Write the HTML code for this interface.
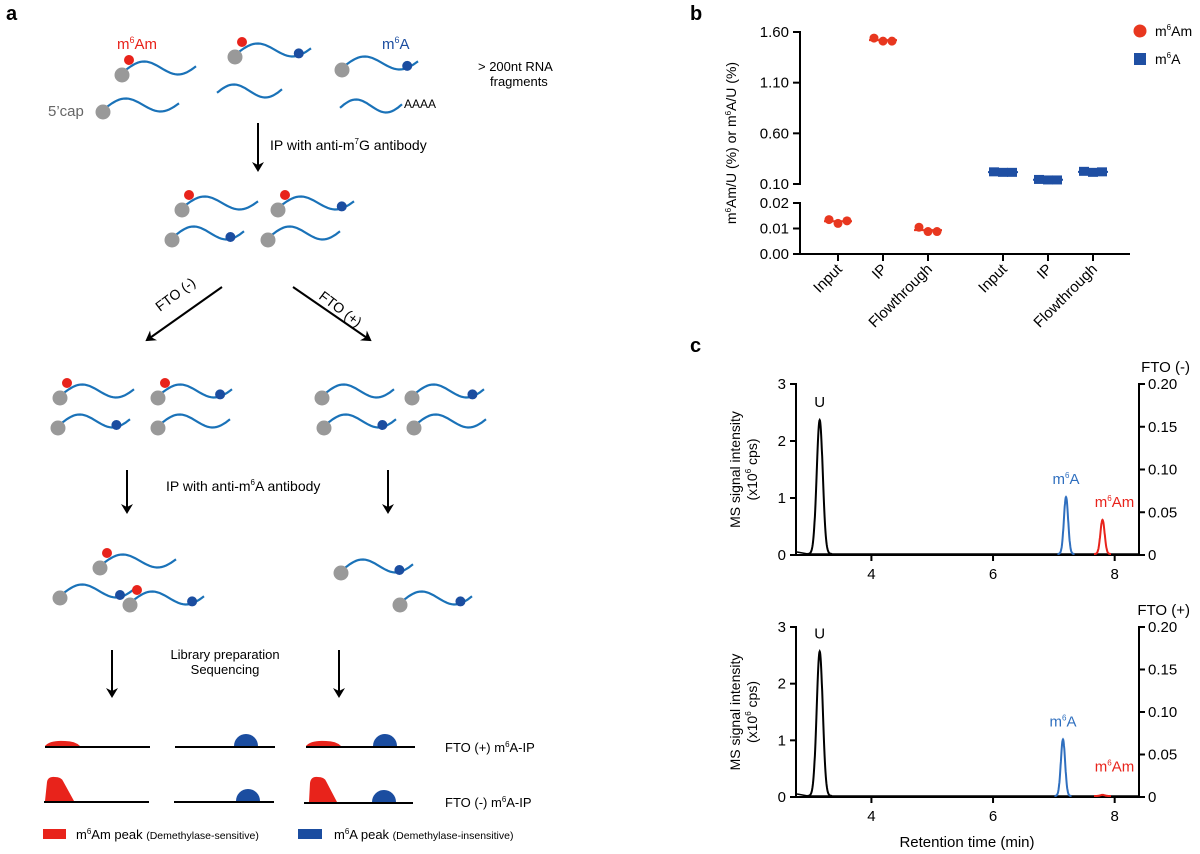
<!DOCTYPE html>
<html><head><meta charset="utf-8"><style>
html,body{margin:0;padding:0;background:#fff}
svg{display:block;font-family:"Liberation Sans",Arial,sans-serif}
</style></head><body>
<svg id="fig" width="1200" height="854" viewBox="0 0 1200 854" xmlns="http://www.w3.org/2000/svg">
<defs>
<marker id="ah" markerWidth="10" markerHeight="12" refX="8" refY="6" orient="auto" markerUnits="userSpaceOnUse"><path d="M0,0 L10,6 L0,12 L3,6 Z" fill="#000"/></marker>
</defs>
<g id="panelA">
<text x="6" y="20" font-size="20" font-weight="bold">a</text>
<text x="117" y="49" font-size="15" fill="#e8231b">m<tspan font-size="9" dy="-6">6</tspan><tspan dy="6">Am</tspan></text>
<text x="382" y="49" font-size="15" fill="#1b4da0">m<tspan font-size="9" dy="-6">6</tspan><tspan dy="6">A</tspan></text>
<text x="478" y="71" font-size="13">&gt; 200nt RNA</text>
<text x="490" y="86" font-size="13">fragments</text>
<text x="48" y="116" font-size="15" fill="#666">5’cap</text>
<text x="404" y="108" font-size="12">AAAA</text>
<line x1="258" y1="123" x2="258" y2="170" stroke="#000" stroke-width="2" marker-end="url(#ah)"/>
<text x="270" y="150" font-size="14">IP with anti-m<tspan font-size="8" dy="-6">7</tspan><tspan dy="6">G antibody</tspan></text>
<line x1="222" y1="287" x2="147" y2="340" stroke="#000" stroke-width="2" marker-end="url(#ah)"/>
<line x1="293" y1="287" x2="370" y2="340" stroke="#000" stroke-width="2" marker-end="url(#ah)"/>
<text x="0" y="0" font-size="14" transform="translate(160,312) rotate(-37)">FTO (-)</text>
<text x="0" y="0" font-size="14" transform="translate(318,298) rotate(37)">FTO (+)</text>
<line x1="127" y1="470" x2="127" y2="512" stroke="#000" stroke-width="2" marker-end="url(#ah)"/>
<line x1="388" y1="470" x2="388" y2="512" stroke="#000" stroke-width="2" marker-end="url(#ah)"/>
<text x="166" y="491" font-size="14">IP with anti-m<tspan font-size="8" dy="-6">6</tspan><tspan dy="6">A antibody</tspan></text>
<line x1="112" y1="650" x2="112" y2="696" stroke="#000" stroke-width="2" marker-end="url(#ah)"/>
<line x1="339" y1="650" x2="339" y2="696" stroke="#000" stroke-width="2" marker-end="url(#ah)"/>
<text x="225" y="659" font-size="13" text-anchor="middle">Library preparation</text>
<text x="225" y="674" font-size="13" text-anchor="middle">Sequencing</text>
<g id="mols"></g>
<g>
<line x1="45" y1="747" x2="150" y2="747" stroke="#000" stroke-width="2"/>
<path d="M45,746 Q50,740 65,741 Q75,741 80,746 Z" fill="#e8231b"/>
<line x1="175" y1="747" x2="275" y2="747" stroke="#000" stroke-width="2"/>
<path d="M234,746 A12,12 0 0 1 258,746 Z" fill="#1b4da0"/>
<line x1="306" y1="747" x2="415" y2="747" stroke="#000" stroke-width="2"/>
<path d="M306,746 Q311,740 326,741 Q336,741 341,746 Z" fill="#e8231b"/>
<path d="M373,746 A12,12 0 0 1 397,746 Z" fill="#1b4da0"/>
<line x1="44" y1="802" x2="149" y2="802" stroke="#000" stroke-width="2"/>
<path d="M45,801 L47,782 Q48,776 55,777 Q61,777 63,781 L74,801 Z" fill="#e8231b"/>
<line x1="174" y1="802" x2="274" y2="802" stroke="#000" stroke-width="2"/>
<path d="M236,801 A12,12 0 0 1 260,801 Z" fill="#1b4da0"/>
<line x1="304" y1="803" x2="413" y2="803" stroke="#000" stroke-width="2"/>
<path d="M309,802 L310,783 Q311,776 318,777 Q324,777 326,781 L337,802 Z" fill="#e8231b"/>
<path d="M372,802 A12,12 0 0 1 396,802 Z" fill="#1b4da0"/>
</g>
<text x="445" y="752" font-size="13">FTO (+) m<tspan font-size="8" dy="-5">6</tspan><tspan dy="5">A-IP</tspan></text>
<text x="445" y="807" font-size="13">FTO (-) m<tspan font-size="8" dy="-5">6</tspan><tspan dy="5">A-IP</tspan></text>
<rect x="43" y="829" width="23" height="10" fill="#e8231b"/>
<text x="76" y="839" font-size="13">m<tspan font-size="8" dy="-5">6</tspan><tspan dy="5">Am peak </tspan><tspan font-size="10.5">(Demethylase-sensitive)</tspan></text>
<rect x="298" y="829" width="24" height="10" fill="#1b4da0"/>
<text x="334" y="839" font-size="13">m<tspan font-size="8" dy="-5">6</tspan><tspan dy="5">A peak </tspan><tspan font-size="10.5">(Demethylase-insensitive)</tspan></text>
</g>

<g id="panelB">
<text x="690" y="20" font-size="20" font-weight="bold">b</text>
<text transform="translate(736,143) rotate(-90)" font-size="14" text-anchor="middle">m<tspan font-size="8" dy="-5">6</tspan><tspan dy="5">Am/U (%) or m</tspan><tspan font-size="8" dy="-5">6</tspan><tspan dy="5">A/U (%)</tspan></text>
<circle cx="1140" cy="31" r="6.5" fill="#e8371f"/>
<text x="1155" y="36" font-size="14">m<tspan font-size="8" dy="-6">6</tspan><tspan dy="6">Am</tspan></text>
<rect x="1134" y="53" width="12" height="12" fill="#1f4fa3"/>
<text x="1155" y="64" font-size="14">m<tspan font-size="8" dy="-6">6</tspan><tspan dy="6">A</tspan></text>
<g id="bAxes"></g><g id="bMarks"></g>
</g>

<g id="panelC">
<text x="690" y="352" font-size="20" font-weight="bold">c</text>
<g id="cPlots"></g>
<text x="967" y="847" font-size="15" text-anchor="middle">Retention time (min)</text>
</g>
</svg>
<script>
const NS="http://www.w3.org/2000/svg";
function mk(tag,attrs,parent){const e=document.createElementNS(NS,tag);for(const k in attrs)e.setAttribute(k,attrs[k]);parent.appendChild(e);return e;}

// ---------- Panel a molecules ----------
const molecules=[
[122,75,70,1,-1,1],[235,57,72,1,0.83,1],[342,70,72,0,0.85,1],[217,92,65,0,-1,0],[103,112,72,0,-1,1],[340,107,62,0,-1,0],
[182,210,72,1,-1,1],[278,210,72,1,0.83,1],[172,240,68,0,0.8,1],[268,240,68,0,-1,1],
[60,398,70,1,-1,1],[158,398,70,1,0.83,1],[58,428,68,0,0.8,1],[158,428,68,0,-1,1],
[322,398,68,0,-1,1],[412,398,68,0,0.83,1],[324,428,68,0,0.8,1],[414,428,68,0,-1,1],
[100,568,72,1,-1,1],[60,598,70,0,0.8,1],[130,605,70,1,0.83,1],
[341,573,68,0,0.8,1],[400,605,68,0,0.83,1]
];
const molG=document.getElementById('mols');
molecules.forEach((m,i)=>{
  const [cx,cy,L,red,blue,cap]=m;
  const g=mk('g',{},molG);
  
  
  const x0=cap?cx+4:cx, y0=cap?cy-6:cy;
  let d='';
  for(let k=0;k<=30;k++){const t=k/30;const x=x0+L*t;const y=y0-8*Math.sin(2*Math.PI*t*0.95+0.15)-6*t+2;d+=(k?'L':'M')+x.toFixed(1)+','+y.toFixed(1);}
  mk('path',{d:d,fill:'none',stroke:'#1a72b8','stroke-width':2.2},g);
  if(cap) mk('circle',{cx:cx,cy:cy,r:7.5,fill:'#999'},g);
  if(red) mk('circle',{cx:cx+7,cy:cy-15,r:5,fill:'#e8231b'},g);
  if(blue>=0){const t=blue;const x=x0+L*t;const y=y0-8*Math.sin(2*Math.PI*t*0.95+0.15)-6*t+2;mk('circle',{cx:x,cy:y-2,r:5,fill:'#1b4da0'},g);}
});

// ---------- Panel b ----------
const bCategories=["Input","IP","Flowthrough","Input","IP","Flowthrough"];
const bM6Am=[[0.0135,0.012,0.013],[1.54,1.51,1.51],[0.0105,0.0088,0.0088]];
const bM6A=[[0.22,0.215,0.215],[0.145,0.14,0.14],[0.225,0.215,0.22]];
const bUpperTicks=[0.10,0.60,1.10,1.60];
const bLowerTicks=[0.00,0.01,0.02];
const bAxisX=800, bCatX0=838, bCatStep=45, bGap=75;
function bY(v){ if(v<=0.02) return 254 - v/0.02*51; return 184 - (v-0.10)/1.50*152; }
function bX(i){ return bCatX0 + i*bCatStep + (i>=3?bGap-bCatStep:0); }
const bA=document.getElementById('bAxes');
let e;
e=mk('line',{x1:bAxisX,y1:31,x2:bAxisX,y2:185,stroke:'#000','stroke-width':2},bA);


e=mk('line',{x1:bAxisX,y1:202,x2:bAxisX,y2:255,stroke:'#000','stroke-width':2},bA);


e=mk('line',{x1:bAxisX-7,y1:254,x2:1130,y2:254,stroke:'#000','stroke-width':2},bA);


bUpperTicks.concat(bLowerTicks).forEach(v=>{
  const y=bY(v);
  mk('line',{x1:bAxisX-7,y1:y,x2:bAxisX,y2:y,stroke:'#000','stroke-width':2},bA);
  const t=mk('text',{x:bAxisX-11,y:y+5,'font-size':15,'text-anchor':'end'},bA);
  t.textContent=v.toFixed(2);
  
  
});
bCategories.forEach((c,i)=>{
  const x=bX(i);
  mk('line',{x1:x,y1:254,x2:x,y2:261,stroke:'#000','stroke-width':2},bA);
  const t=mk('text',{x:0,y:0,'font-size':15,'text-anchor':'end',transform:`translate(${x+5},${270}) rotate(-45)`},bA);
  t.textContent=c;
  
  
});
const bM=document.getElementById('bMarks');
const offs=[-9,0,9];
bM6Am.forEach((grp,gi)=>{
  const x=bX(gi); const mean=grp.reduce((a,b)=>a+b)/grp.length;
  mk('line',{x1:x-14,y1:bY(mean),x2:x+14,y2:bY(mean),stroke:'#e8371f','stroke-width':2},bM);
  grp.forEach((v,j)=>{const c=mk('circle',{cx:x+offs[j],cy:bY(v),r:4.5,fill:'#e8371f'},bM);
    
    });
});
bM6A.forEach((grp,gi)=>{
  const x=bX(gi+3); const mean=grp.reduce((a,b)=>a+b)/grp.length;
  mk('line',{x1:x-15,y1:bY(mean),x2:x+15,y2:bY(mean),stroke:'#1f4fa3','stroke-width':2},bM);
  grp.forEach((v,j)=>{const r=mk('rect',{x:x+offs[j]-5,y:bY(v)-4.5,width:10,height:9,fill:'#1f4fa3'},bM);
    
    });
});

// ---------- Panel c ----------
const cTitles=["FTO (-)","FTO (+)"];
const cPeakNames=["U","m6A","m6Am"];
const cPeakTimes=[[3.15,7.2,7.8],[3.15,7.15,7.8]];
const cPeakHeights=[[2.35,1.0,0.6],[2.55,1.0,0.02]];
const cLeftTicks=[0,1,2,3];
const cRightTicks=["0","0.05","0.10","0.15","0.20"];
const cXTicks=[4,6,8];
const cXMin=2.76,cXMax=8.4;
const cColors=["#000","#2f6fbf","#e8231b"];
const cTop=[384,627],cBot=[555,797];
const cL=796,cR=1139;
const cG=document.getElementById('cPlots');
function cX(t){return cL+(t-cXMin)/(cXMax-cXMin)*(cR-cL);}
cTitles.forEach((title,p)=>{
  const top=cTop[p],bot=cBot[p];
  const yv=v=>bot-v/3*(bot-top);
  const g=mk('g',{},cG);
  
  
  mk('line',{x1:cL,y1:top-1,x2:cL,y2:bot+1,stroke:'#000','stroke-width':2},g);
  mk('line',{x1:cR,y1:top-1,x2:cR,y2:bot+1,stroke:'#000','stroke-width':2},g);
  mk('line',{x1:cL-6,y1:bot,x2:cR+6,y2:bot,stroke:'#000','stroke-width':2},g);
  cLeftTicks.forEach(v=>{const y=yv(v);mk('line',{x1:cL-6,y1:y,x2:cL,y2:y,stroke:'#000','stroke-width':2},g);
    const t=mk('text',{x:cL-10,y:y+5,'font-size':15,'text-anchor':'end'},g);t.textContent=v;
    
    });
  cRightTicks.forEach((s,i)=>{const y=bot-i/(cRightTicks.length-1)*(bot-top);mk('line',{x1:cR,y1:y,x2:cR+6,y2:y,stroke:'#000','stroke-width':2},g);
    const t=mk('text',{x:cR+9,y:y+5,'font-size':15},g);t.textContent=s;
    
    });
  cXTicks.forEach(v=>{const x=cX(v);mk('line',{x1:x,y1:bot,x2:x,y2:bot+6,stroke:'#000','stroke-width':2},g);
    const t=mk('text',{x:x,y:bot+24,'font-size':15,'text-anchor':'middle'},g);t.textContent=v;
    
    });
  const tt=mk('text',{x:1190,y:top-12,'font-size':15,'text-anchor':'end'},g);tt.textContent=title;
  
  
  const yl=mk('text',{'font-size':14,'text-anchor':'middle',transform:`translate(${cL-56},${(top+bot)/2}) rotate(-90)`},g);
  yl.innerHTML='<tspan x="0" dy="0">MS signal intensity</tspan><tspan x="0" dy="17">(x10</tspan><tspan font-size="8" dy="-6">6</tspan><tspan dy="6"> cps)</tspan>';
  
  
  mk('path',{d:`M${cL+1},${bot-3} L${cL+12},${bot-1} L${cR},${bot-1}`,fill:'none',stroke:'#000','stroke-width':1.5},g);
  cPeakTimes[p].forEach((t0,k)=>{
    const h=cPeakHeights[p][k];const w=k===0?0.05:0.035;
    let d='';
    for(let s=-40;s<=40;s++){const t=t0+s*w/10;const v=h*Math.exp(-((t-t0)*(t-t0))/(2*w*w));d+=(s>-40?'L':'M')+cX(t).toFixed(1)+','+(yv(v)-1).toFixed(1);}
    const pk=mk('path',{d:d,fill:'none',stroke:cColors[k],'stroke-width':2},g);
    
    
    const lx=cX(t0)+(k===2?12:0), ly=k===2?yv(Math.max(h,0.2))-14:yv(h)-14;
    const lb=mk('text',{x:lx,y:ly,'font-size':15,'text-anchor':'middle',fill:k===0?'#000':cColors[k]},g);
    lb.innerHTML=k===0?'U':('m<tspan font-size="8" dy="-6">6</tspan><tspan dy="6">'+(k===1?'A':'Am')+'</tspan>');
    
    
  });
});
</script>
</body></html>
